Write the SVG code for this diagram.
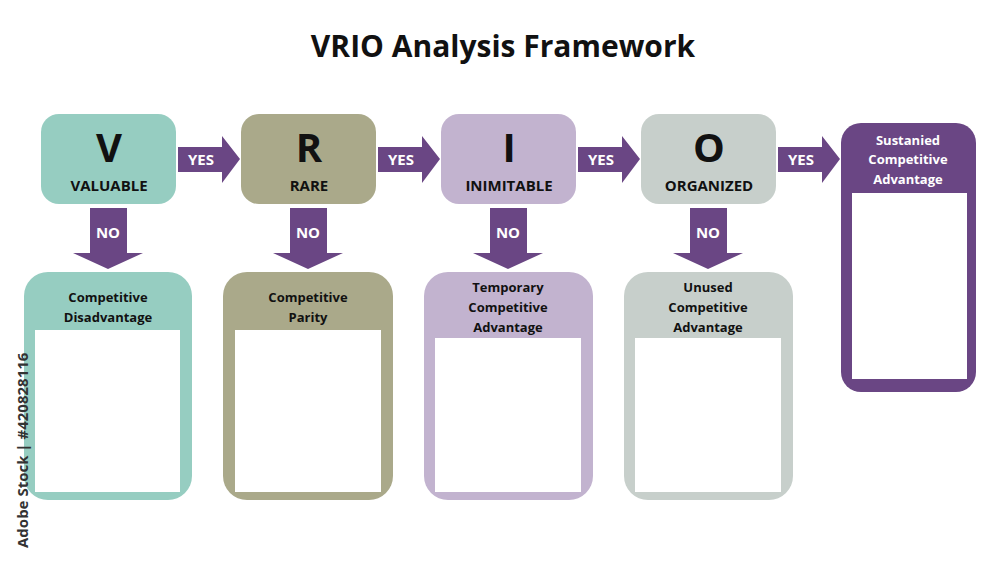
<svg xmlns="http://www.w3.org/2000/svg" width="1000" height="563" viewBox="0 0 1000 563">
<style>
text{font-family:"Open Sans","Noto Sans",sans-serif;font-weight:bold;text-anchor:middle}
.t{font-size:30px;fill:#111}
.big{font-size:40px;fill:#111}
.lab{font-size:15px;fill:#111}
.w{font-size:15px;fill:#fff}
.s{font-size:13px;fill:#111}
.arr{fill:#6a4684}
</style>
<rect width="1000" height="563" fill="#fff"/>
<text class="t" x="503" y="57">VRIO Analysis Framework</text>
<g id="V"><rect x="41" y="114" width="135" height="90" rx="18" fill="#96cdc1"/><text class="big" x="109" y="162">V</text><text class="lab" x="109" y="191">VALUABLE</text></g>
<g id="R"><rect x="241" y="114" width="135" height="90" rx="18" fill="#aaa98a"/><text class="big" x="309" y="162">R</text><text class="lab" x="309" y="191">RARE</text></g>
<g id="I"><rect x="441" y="114" width="135" height="90" rx="18" fill="#c2b3cf"/><text class="big" x="509" y="162">I</text><text class="lab" x="509" y="191">INIMITABLE</text></g>
<g id="O"><rect x="641" y="114" width="135" height="90" rx="18" fill="#c7cfcb"/><text class="big" x="709" y="162">O</text><text class="lab" x="709" y="191">ORGANIZED</text></g>
<g id="S"><rect x="841" y="123" width="135" height="269" rx="20" fill="#6a4684"/><rect x="852" y="193" width="115" height="186" fill="#fff"/><text class="s" style="fill:#fff" x="908" y="145">Sustanied</text><text class="s" style="fill:#fff" x="908" y="164">Competitive</text><text class="s" style="fill:#fff" x="908" y="184">Advantage</text></g>
<g id="CD"><rect x="24" y="272" width="168" height="228" rx="24" fill="#96cdc1"/><rect x="35" y="330" width="145" height="162" fill="#fff"/><text class="s" x="108" y="302">Competitive</text><text class="s" x="108" y="322">Disadvantage</text></g>
<g id="CP"><rect x="223" y="272" width="170" height="228" rx="24" fill="#aaa98a"/><rect x="235" y="330" width="146" height="162" fill="#fff"/><text class="s" x="308" y="302">Competitive</text><text class="s" x="308" y="322">Parity</text></g>
<g id="TCA"><rect x="424" y="272" width="169" height="228" rx="24" fill="#c2b3cf"/><rect x="435" y="338" width="146" height="154" fill="#fff"/><text class="s" x="508" y="292">Temporary</text><text class="s" x="508" y="312">Competitive</text><text class="s" x="508" y="332">Advantage</text></g>
<g id="UCA"><rect x="624" y="272" width="169" height="228" rx="24" fill="#c7cfcb"/><rect x="635" y="338" width="146" height="154" fill="#fff"/><text class="s" x="708" y="292">Unused</text><text class="s" x="708" y="312">Competitive</text><text class="s" x="708" y="332">Advantage</text></g>
<text x="28" y="548" transform="rotate(-90 28 548)" style="font-size:15px;text-anchor:start;fill:#333">Adobe Stock | #420828116</text>
<g id="connectors">
<g id="yes1"><polygon class="arr" points="178,147 222,147 222,136 240,159 222,183 222,172 178,172"/><text class="w" x="201" y="165">YES</text></g>
<g id="yes2"><polygon class="arr" points="378,147 422,147 422,136 440,159 422,183 422,172 378,172"/><text class="w" x="401" y="165">YES</text></g>
<g id="yes3"><polygon class="arr" points="578,147 622,147 622,136 640,159 622,183 622,172 578,172"/><text class="w" x="601" y="165">YES</text></g>
<g id="yes4"><polygon class="arr" points="778,147 822,147 822,136 840,159 822,183 822,172 778,172"/><text class="w" x="801" y="165">YES</text></g>
<g id="no1"><polygon class="arr" points="90,208 127,208 127,253 143,253 108,269 73,253 90,253"/><text class="w" x="108" y="238">NO</text></g>
<g id="no2"><polygon class="arr" points="290,208 327,208 327,253 343,253 308,269 273,253 290,253"/><text class="w" x="308" y="238">NO</text></g>
<g id="no3"><polygon class="arr" points="490,208 527,208 527,253 543,253 508,269 473,253 490,253"/><text class="w" x="508" y="238">NO</text></g>
<g id="no4"><polygon class="arr" points="690,208 727,208 727,253 743,253 708,269 673,253 690,253"/><text class="w" x="708" y="238">NO</text></g>
</g>
</svg>
